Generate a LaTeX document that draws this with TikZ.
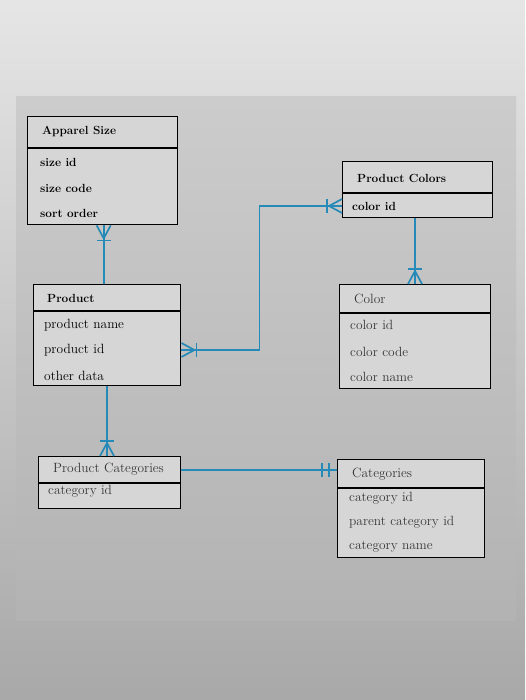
\documentclass[tikz,border=0pt]{standalone}
\usepackage{tikz}
\definecolor{connblue}{RGB}{38,138,184}
\definecolor{boxgray}{RGB}{214,214,214}
\definecolor{txtgray}{RGB}{55,55,55}
\tikzset{
  conn/.style={draw=connblue, line width=1.7pt},
  entity/.style={draw=black, line width=1.4pt, fill=boxgray, rectangle, inner sep=0pt, anchor=north west},
  entline/.style={draw=black, line width=1.3pt},
  ttl/.style={anchor=west, inner sep=0pt, font=\fontsize{11.8}{14}\selectfont\bfseries},
  row/.style={anchor=west, inner sep=0pt, font=\fontsize{13.4}{15}\selectfont, text=txtgray},
  prow/.style={anchor=west, inner sep=0pt, font=\fontsize{13.4}{15}\selectfont, text=black},
  brow/.style={anchor=west, inner sep=0pt, font=\fontsize{11.8}{14}\selectfont\bfseries},
  nttl/.style={anchor=west, inner sep=0pt, font=\fontsize{13.4}{15}\selectfont, text=txtgray},
  crow/.pic={\draw[conn] (0,-7) -- (13,0) -- (0,7); \draw[conn] (15,-7) -- (15,7);},
  onlyone/.pic={\draw[conn] (8,-7) -- (8,7); \draw[conn] (15,-7) -- (15,7);}
}
\begin{document}
\begin{tikzpicture}[x=1pt,y=-1pt]
\useasboundingbox (0,0) rectangle (525,700);
% photo background
\shade[top color=black!10, bottom color=black!34] (0,0) rectangle (525,700);
\shade[top color=black!20, bottom color=black!30] (16,97) rectangle (516,620);

% entities
\node[entity, minimum width=150pt, minimum height=108pt] (apparel) at (27,116) {};
\draw[entline] ([yshift=-32pt]apparel.north west) -- ([yshift=-32pt]apparel.north east);
\node[ttl] (apparelT) at (42,132) {Apparel Size};
\node[brow] (sizeid) at (40,162) {size id};
\node[brow] (sizecode) at (40,188) {size code};
\node[brow] (sortorder) at (40,213) {sort order};

\node[entity, minimum width=150pt, minimum height=56pt] (pcolors) at (342,161) {};
\draw[entline] ([yshift=-32pt]pcolors.north west) -- ([yshift=-32pt]pcolors.north east);
\node[ttl] (pcolorsT) at (357,178) {Product Colors};
\node[brow] (pcolid) at (352,206) {color id};

\node[entity, minimum width=147pt, minimum height=101pt] (product) at (33,284) {};
\draw[entline] ([yshift=-27pt]product.north west) -- ([yshift=-27pt]product.north east);
\node[ttl] (productT) at (47,298) {Product};
\node[prow] (prodname) at (44,325) {product name};
\node[prow] (prodid) at (44,350) {product id};
\node[prow] (otherdata) at (44,376) {other data};

\node[entity, minimum width=151pt, minimum height=104pt] (color) at (339,284) {};
\draw[entline] ([yshift=-29pt]color.north west) -- ([yshift=-29pt]color.north east);
\node[nttl] (colorT) at (354,299) {Color};
\node[row] (colid) at (350,325) {color id};
\node[row] (colcode) at (350,352) {color code};
\node[row] (colname) at (350,377) {color name};

\node[entity, minimum width=142pt, minimum height=52pt] (pcats) at (38,456) {};
\draw[entline] ([yshift=-27pt]pcats.north west) -- ([yshift=-27pt]pcats.north east);
\node[nttl] (pcatsT) at (53,469) {Product Categories};
\node[row] (pcatid) at (48,491) {category id};

\node[entity, minimum width=147pt, minimum height=98pt] (cats) at (337,459) {};
\draw[entline] ([yshift=-29pt]cats.north west) -- ([yshift=-29pt]cats.north east);
\node[nttl] (catsT) at (352,474) {Categories};
\node[row] (catid) at (349,498) {category id};
\node[row] (parcatid) at (349,522) {parent category id};
\node[row] (catname) at (349,547) {category name};

% connectors
\draw[conn] ([xshift=1pt]apparel.south) -- ([xshift=1pt]apparel.south |- product.north);
\pic[rotate=-90] at ([xshift=1pt]apparel.south) {crow};

\draw[conn] (product.east |- prodid) -- ++(78pt,0) |- (pcolors.west |- pcolid);
\pic at (product.east |- prodid) {crow};
\pic[rotate=180] at (pcolors.west |- pcolid) {crow};

\draw[conn] (pcolors.south -| 415,0) -- (color.north -| 415,0);
\pic[rotate=90] at (color.north -| 415,0) {crow};

\draw[conn] (product.south -| 107,0) -- (pcats.north -| 107,0);
\pic[rotate=90] at (pcats.north -| 107,0) {crow};

\draw[conn] (pcats.east |- 0,470) -- (cats.west |- 0,470);
\pic[rotate=180] at (cats.west |- 0,470) {onlyone};
\end{tikzpicture}
\end{document}
